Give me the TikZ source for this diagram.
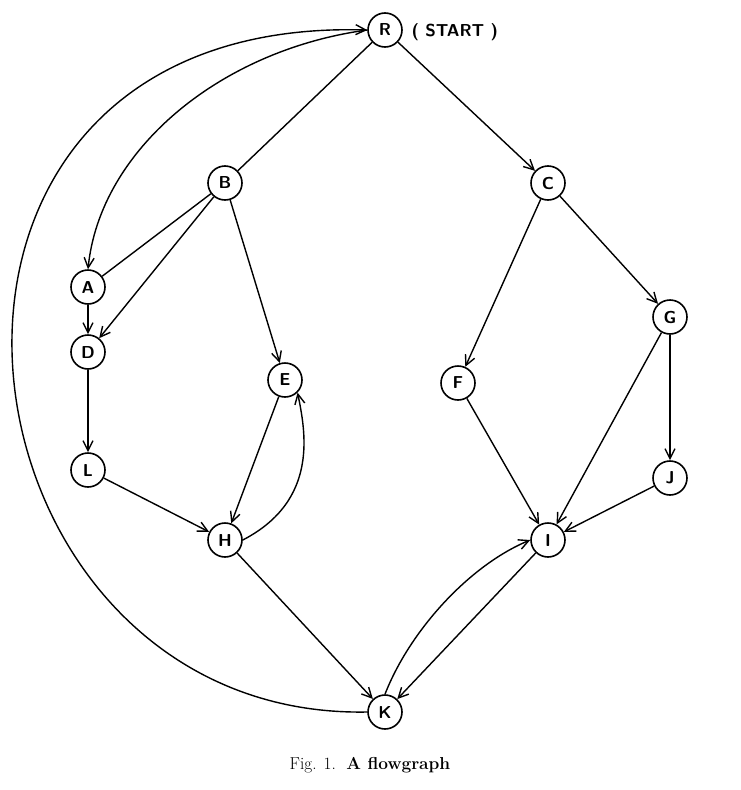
\documentclass[tikz,border=0pt]{standalone}
\usetikzlibrary{arrows.meta}
\begin{document}
\begin{tikzpicture}[x=1pt,y=-1pt,
 nd/.style={circle,draw,line width=1.6pt,minimum size=34pt,inner sep=0pt,font=\sffamily\bfseries\LARGE},
 ar/.style={line width=1.4pt,-{Straight Barb[length=10pt,width=10pt]}},
 ln/.style={line width=1.4pt}]
\useasboundingbox (0,0) rectangle (740,790);
\node[nd] (R) at (385,30) {R};
\node[font=\sffamily\bfseries\LARGE,anchor=west] (st) at (408,32) {( START )};
\node[nd] (C) at (548,183) {C};
\node[nd] (B) at (225,183) {B};
\node[nd] (A) at (88,287) {A};
\node[nd] (D) at (88,352) {D};
\node[nd] (L) at (88,470) {L};
\node[nd] (E) at (285,380) {E};
\node[nd] (H) at (225,540) {H};
\node[nd] (F) at (458,383) {F};
\node[nd] (G) at (670,317) {G};
\node[nd] (J) at (670,478) {J};
\node[nd] (I) at (548,540) {I};
\node[nd] (K) at (385,712) {K};
\node[font=\LARGE] (cap) at (370,765) {Fig. 1.\ \ \textbf{A flowgraph}};
\draw[ar] (R) -- (C);
\draw[ln] (R) -- (B);
\draw[ln] (B) -- (A);
\draw[ar] (B) -- (D);
\draw[ar] (B) -- (E);
\draw[ar] (A) -- (D);
\draw[ar] (D) -- (L);
\draw[ar] (L) -- (H);
\draw[ar] (E) -- (H);
\draw[ar] (H.east) .. controls (320,500) and (305,430) .. (E.south east);
\draw[ar] (H) -- (K);
\draw[ar] (C) -- (F);
\draw[ar] (C) -- (G);
\draw[ar] (G) -- (I);
\draw[ar] (G) -- (J);
\draw[ar] (J) -- (I);
\draw[ar] (F) -- (I);
\draw[ar] (I) -- (K);
\draw[ar] (K.north) .. controls (410,630) and (470,565) .. (I.west);
\draw[ar] (R.west) .. controls (220,50) and (100,150) .. (A.north);
\draw[ar] (K.west) .. controls (-60,720) and (-150,15) .. (R.west);
\end{tikzpicture}
\end{document}
